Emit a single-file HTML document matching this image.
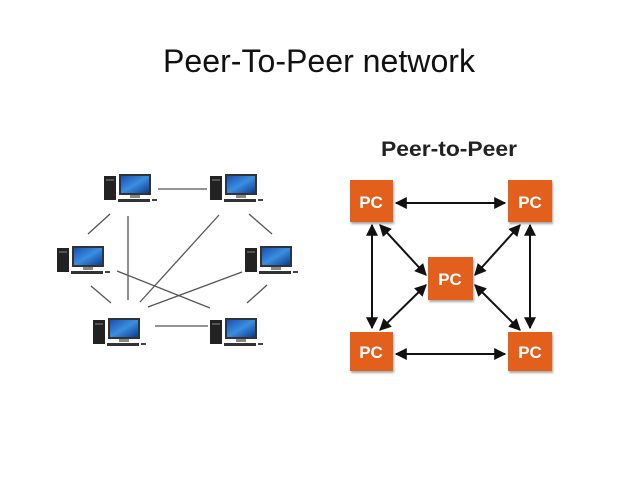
<!DOCTYPE html>
<html><head><style>
body{margin:0;width:638px;height:478px;background:#fff;overflow:hidden;font-family:"Liberation Sans",sans-serif}
</style></head><body>
<svg width="638" height="478" xmlns="http://www.w3.org/2000/svg">
<defs>
<linearGradient id="scr" x1="0" y1="0" x2="1" y2="1"><stop offset="0" stop-color="#1a4fb0"/><stop offset="0.5" stop-color="#3a8ee0"/><stop offset="1" stop-color="#0c3c90"/></linearGradient>
<g id="pc">
<rect x="0" y="2" width="12" height="24" fill="#222"/>
<rect x="2" y="5" width="8" height="2" fill="#555"/>
<rect x="15" y="0" width="32" height="21" fill="#333"/>
<rect x="17" y="2" width="28" height="17" fill="url(#scr)"/>
<rect x="26" y="21" width="10" height="3" fill="#888"/>
<rect x="14" y="25" width="32" height="3" fill="#333"/>
<rect x="48" y="25" width="5" height="2" fill="#444"/>
</g>
<marker id="ah" viewBox="0 0 10 10" refX="9" refY="5" markerWidth="6" markerHeight="6" orient="auto-start-reverse"><path d="M0,0 L10,5 L0,10 z" fill="#111"/></marker>
<filter id="sh"><feDropShadow dx="1" dy="2" stdDeviation="1" flood-color="#000" flood-opacity="0.35"/></filter>
</defs>
<text x="319" y="72" font-size="32" text-anchor="middle" fill="#111" textLength="312" lengthAdjust="spacingAndGlyphs">Peer-To-Peer network</text>
<g stroke="#555" stroke-width="1.3">
<line x1="158" y1="189" x2="207" y2="189"/>
<line x1="110" y1="214" x2="88" y2="234"/>
<line x1="128" y1="216" x2="128" y2="300"/>
<line x1="219" y1="215" x2="140" y2="302"/>
<line x1="249" y1="214" x2="272" y2="234"/>
<line x1="91" y1="286" x2="111" y2="303"/>
<line x1="117" y1="271" x2="210" y2="308"/>
<line x1="242" y1="272" x2="148" y2="307"/>
<line x1="267" y1="285" x2="247" y2="303"/>
<line x1="155" y1="326" x2="208" y2="326"/>
</g>
<use href="#pc" x="104" y="174"/>
<use href="#pc" x="210" y="174"/>
<use href="#pc" x="57" y="246"/>
<use href="#pc" x="245" y="246"/>
<use href="#pc" x="93" y="318"/>
<use href="#pc" x="210" y="318"/>
<text x="449" y="156" font-size="21" font-weight="bold" text-anchor="middle" fill="#222" textLength="136" lengthAdjust="spacingAndGlyphs">Peer-to-Peer</text>
<g stroke="#111" stroke-width="2" marker-start="url(#ah)" marker-end="url(#ah)">
<line x1="396" y1="203" x2="505" y2="203"/>
<line x1="396" y1="354" x2="505" y2="354"/>
<line x1="372" y1="225" x2="372" y2="328"/>
<line x1="530" y1="225" x2="530" y2="328"/>
<line x1="380" y1="225" x2="426" y2="275"/>
<line x1="520" y1="225" x2="475" y2="275"/>
<line x1="426" y1="285" x2="380" y2="330"/>
<line x1="475" y1="285" x2="520" y2="330"/>
</g>
<g fill="#e2611f" filter="url(#sh)">
<rect x="350" y="180" width="43" height="42"/>
<rect x="508" y="180" width="44" height="42"/>
<rect x="428" y="257" width="45" height="43"/>
<rect x="350" y="332" width="43" height="39"/>
<rect x="508" y="332" width="44" height="39"/>
</g>
<g fill="#fff" font-size="17" font-weight="bold" text-anchor="middle">
<text x="371" y="208">PC</text>
<text x="530" y="208">PC</text>
<text x="450" y="285">PC</text>
<text x="371" y="358">PC</text>
<text x="530" y="358">PC</text>
</g>
</svg>
</body></html>
